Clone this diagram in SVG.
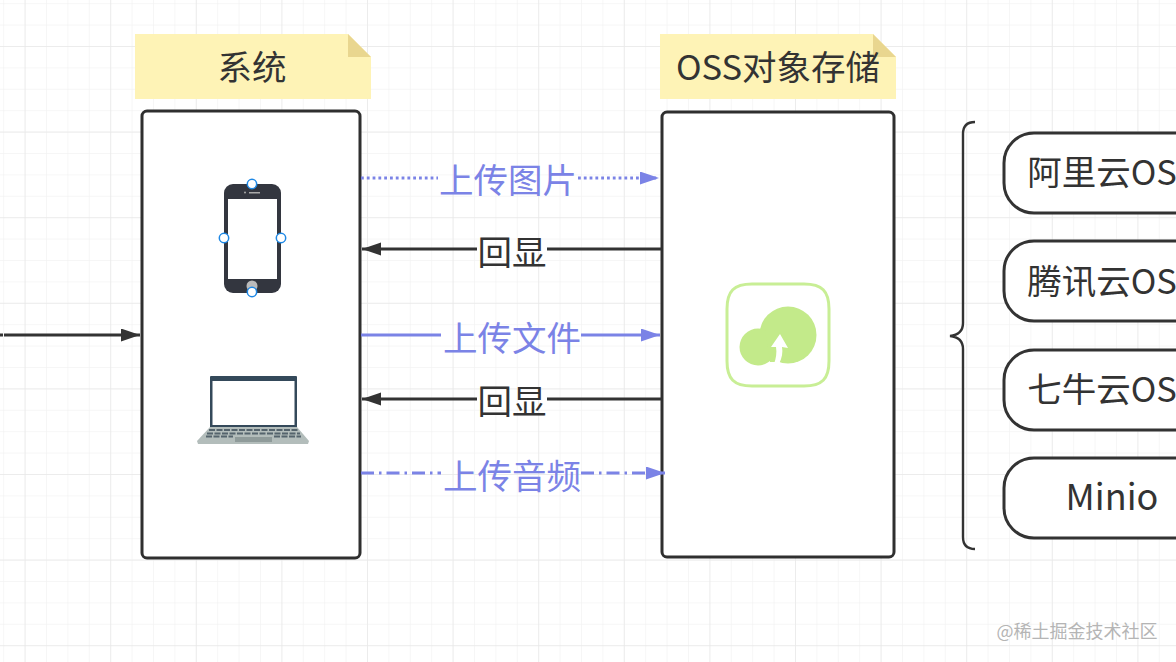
<svg xmlns="http://www.w3.org/2000/svg" width="1176" height="662" viewBox="0 0 1176 662">
<style>
text{font-family:"Noto Sans CJK SC","Noto Sans",sans-serif;font-size:34.5px;text-anchor:middle;fill:#333}
.box{fill:#fff;stroke:#2f2f2f;stroke-width:3}
.pill{fill:#fff;stroke:#333;stroke-width:3}
.note{fill:#fef3b6}
.fold{fill:#e9d68f}
.line{fill:none;stroke-width:2.8}
.k{stroke:#333}
.b{stroke:#7b83e6}
.dot{stroke-dasharray:2.8 3}
.dd{stroke-dasharray:13 5 2.5 5}
text.bt{fill:#7b83e6}
.handle{fill:#fff;stroke:#1e88e5;stroke-width:1.5}
</style>
<defs>
<pattern id="minor" x="3.2" y="3.2" width="21.4" height="21.4" patternUnits="userSpaceOnUse"><path d="M0 0H21.4M0 0V21.4" fill="none" stroke="#f3f3f3" stroke-width="1.4"/></pattern>
<pattern id="major" x="24.6" y="46" width="85.6" height="85.6" patternUnits="userSpaceOnUse"><path d="M0 0H85.6M0 0V85.6" fill="none" stroke="#e9e9e9" stroke-width="1.4"/></pattern>
<marker id="ab" markerWidth="20" markerHeight="14" refX="19" refY="6.500" orient="auto" markerUnits="userSpaceOnUse"><path d="M0 0L19 6.500L0 13Z" fill="#7b83e6"/></marker>
<marker id="ak" markerWidth="20" markerHeight="14" refX="19" refY="6.500" orient="auto" markerUnits="userSpaceOnUse"><path d="M0 0L19 6.500L0 13Z" fill="#333"/></marker>
</defs>
<rect width="1176" height="662" fill="#fff"/>
<rect width="1176" height="662" fill="url(#minor)"/>
<rect width="1176" height="662" fill="url(#major)"/>

<g id="title-system">
<path class="note" d="M135 34H348L371 57V99H135Z"/><path class="fold" d="M348 34L371 57H348Z"/>
<text x="252" y="80">系统</text>
</g>
<g id="title-oss">
<path class="note" d="M660 34H873L896 57V99H660Z"/><path class="fold" d="M873 34L896 57H873Z"/>
<text x="778" y="80">OSS对象存储</text>
</g>

<g id="system">
<rect class="box" x="142" y="111" width="218" height="447" rx="5"/>
<g id="phone">
<rect x="224" y="184" width="57" height="109" rx="9" fill="#33363f"/>
<rect x="228" y="199" width="49" height="80" fill="#fff"/>
<rect x="249" y="192" width="11" height="1.5" fill="#aaa"/><circle cx="245" cy="192.500" r="1" fill="#aaa"/>
<circle cx="252" cy="286" r="5.500" fill="#bbb"/>
<circle class="handle" cx="252" cy="184" r="4.700"/><circle class="handle" cx="224" cy="238" r="4.700"/><circle class="handle" cx="281" cy="238" r="4.700"/><circle class="handle" cx="252" cy="292" r="4.700"/>
</g>
<g id="laptop">
<path d="M211 376H296Q297 376 297 377V427H210V377Q210 376 211 376Z" fill="#34495a"/>
<rect x="212.500" y="381" width="82" height="44" fill="#fff"/>
<path d="M210 427H297L309 441L308 444H198L197 441Z" fill="#b3bdbb"/>
<path d="M209 430H298M207 433.500H300M206 436.500H233M274 436.500H301" stroke="#55646d" stroke-width="2.200" stroke-dasharray="6 1.500"/>
<rect x="235" y="437" width="37" height="5" fill="#8f9b9a"/>
</g>
</g>

<g id="oss">
<rect class="box" x="662" y="112" width="232" height="445" rx="5"/>
<g id="cloud-icon">
<path d="M752 284H804C822 284 829 291 829 309V361C829 379 822 386 804 386H752C734 386 727 379 727 361V309C727 291 734 284 752 284Z" fill="#fff" stroke="#c8ee95" stroke-width="3"/>
<circle cx="788" cy="335" r="28.500" fill="#c3ea8a"/><circle cx="758" cy="347" r="18.500" fill="#c3ea8a"/><path d="M765 330L770 362L790 362L785 320Z" fill="#c3ea8a"/>
<path d="M780 334L771 347L776 347C777 353 776 358 774 364L779 364C782 358 783 352 782 347L788 348Z" fill="#fff"/>
</g>
</g>

<g id="ali"><rect class="pill" x="1004" y="133" width="216" height="80" rx="30"/><text x="1112" y="185">阿里云OSS</text></g>
<g id="tencent"><rect class="pill" x="1004" y="241" width="216" height="80" rx="30"/><text x="1112" y="294">腾讯云OSS</text></g>
<g id="qiniu"><rect class="pill" x="1004" y="350" width="216" height="80" rx="30"/><text x="1112" y="402">七牛云OSS</text></g>
<g id="minio"><rect class="pill" x="1004" y="458" width="216" height="80" rx="30"/><text x="1112" y="510" style="font-size:36px">Minio</text></g>

<g id="connectors">
<path class="line k" d="M0 335H3M4 335H140" marker-end="url(#ak)"/>
<path class="line b dot" d="M361 178H438"/><path class="line b dot" d="M578 178H659" marker-end="url(#ab)"/>
<text class="bt" x="508" y="193">上传图片</text>
<path class="line k" d="M661 249H547"/><path class="line k" d="M477 249H362" marker-end="url(#ak)"/>
<text x="512" y="265">回显</text>
<path class="line b" d="M361 335H441"/><path class="line b" d="M581 335H660" marker-end="url(#ab)"/>
<text class="bt" x="512" y="351">上传文件</text>
<path class="line k" d="M661 399H547"/><path class="line k" d="M477 399H362" marker-end="url(#ak)"/>
<text x="512" y="414">回显</text>
<path class="line b dd" d="M361 473H441"/><path class="line b dd" d="M581 473H665" marker-end="url(#ab)"/>
<text class="bt" x="512" y="489">上传音频</text>
<path id="brace" d="M975 122C967 122 963 126 963 134V323C963 331 959 335 950 336C959 337 963 341 963 349V537C963 545 967 549 975 549" fill="none" stroke="#333" stroke-width="2.400"/>
</g>

<text x="1077" y="638" style="font-size:18px;fill:#b5b5b5">@稀土掘金技术社区</text>
</svg>
